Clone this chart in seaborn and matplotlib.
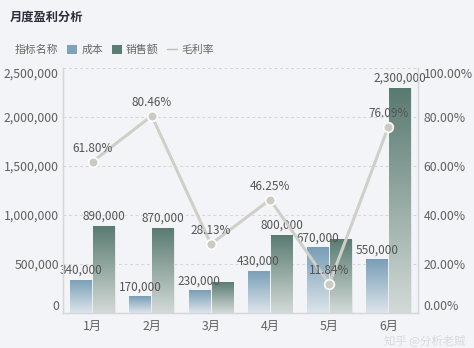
import numpy as np
import pandas as pd
import matplotlib
matplotlib.use("Agg")
import matplotlib.pyplot as plt
import seaborn as sns
from matplotlib.patches import Patch
from matplotlib.lines import Line2D
from matplotlib.colors import LinearSegmentedColormap

months = ["1月", "2月", "3月", "4月", "5月", "6月"]
cost = [340000, 170000, 230000, 430000, 670000, 550000]
sales = [890000, 870000, 320000, 800000, 760000, 2300000]
margin = [61.80, 80.46, 28.13, 46.25, 11.84, 76.09]
series_names = ["成本", "销售额"]
margin_name = "毛利率"
show_sales_label = [True, True, False, True, False, True]

sns.set_theme(style="white")
plt.rcParams["font.family"] = ["Noto Sans CJK SC", "DejaVu Sans"]
plt.rcParams["axes.unicode_minus"] = False

bg = "#f3f4f7"
fig = plt.figure(figsize=(4.74, 3.48), dpi=100, facecolor=bg)
ax = fig.add_axes([63/474, 1-313/348, (418-63)/474, (313-68)/348])
ax.set_facecolor("none")

df = pd.DataFrame({
    "month": months * 2,
    "value": cost + sales,
    "series": [series_names[0]] * len(months) + [series_names[1]] * len(months),
})
cost_top, cost_bot = "#789eb6", "#dce5eb"
sales_top, sales_bot = "#587a70", "#d3dad7"
sns.barplot(data=df, x="month", y="value", hue="series", order=months,
            hue_order=series_names, palette=[cost_top, sales_top],
            width=0.78, gap=0.06, legend=False, ax=ax, zorder=2)

cmaps = {
    0: LinearSegmentedColormap.from_list("c", [cost_bot, cost_top]),
    1: LinearSegmentedColormap.from_list("s", [sales_bot, sales_top]),
}
grad = np.linspace(0, 1, 256).reshape(-1, 1)
bars = [p for p in ax.patches]
n = len(months)
for i, p in enumerate(bars):
    sidx = i // n
    x0, w, h = p.get_x(), p.get_width(), p.get_height()
    im = ax.imshow(grad, cmap=cmaps[sidx], origin="lower", aspect="auto",
                   extent=[x0, x0 + w, 0, h], zorder=3, interpolation="bicubic")
    im.set_clip_path(p)
    p.set_edgecolor("white")
    p.set_linewidth(0.5)

ax.set_xlim(-0.5, n - 0.5)
ax.set_ylim(0, 2500000)
yt = [0, 500000, 1000000, 1500000, 2000000, 2500000]
ax.set_yticks(yt)
ax.set_yticklabels(["0" if v == 0 else f"{v:,}" for v in yt])
for v in yt[1:]:
    ax.axhline(v, color="#d5d6da", lw=0.8, ls=(0, (2.5, 2.5)), zorder=1)

# bar labels
lab_color = "#555555"
for i, p in enumerate(bars):
    sidx = i // n
    m = i % n
    if sidx == 1 and not show_sales_label[m]:
        continue
    val = (cost if sidx == 0 else sales)[m]
    ax.annotate(f"{val:,}", (p.get_x() + p.get_width() / 2, p.get_height()),
                xytext=(0, 2), textcoords="offset points", ha="center",
                va="bottom", fontsize=8.5, color=lab_color, zorder=6)

ax2 = ax.twinx()
ax2.set_position(ax.get_position())
sns.lineplot(x=months, y=[v / 100 for v in margin], ax=ax2, color="#cfcfc8",
             lw=2.2, marker="o", markersize=7, markerfacecolor="#cbcbc4",
             markeredgecolor="white", markeredgewidth=1.2, zorder=5, sort=False)
ax2.set_ylim(0, 1.0)
ax2.set_xlim(-0.5, n - 0.5)
rt = [0, 0.2, 0.4, 0.6, 0.8, 1.0]
ax2.set_yticks(rt)
ax2.set_yticklabels([f"{v*100:.2f}%" for v in rt])
for m, v in enumerate(margin):
    ax2.annotate(f"{v:.2f}%", (m, v / 100), xytext=(0, 5), textcoords="offset points",
                 ha="center", va="bottom", fontsize=8.5, color=lab_color, zorder=7)

for a in (ax, ax2):
    a.set_xlabel("")
    a.set_ylabel("")
    a.tick_params(length=0, labelsize=8.8, colors="#606060", pad=3)
    a.spines["top"].set_visible(False)
    for s in ("left", "right", "bottom"):
        a.spines[s].set_color("#d6d7db")
        a.spines[s].set_linewidth(0.9)
    labs = a.get_yticklabels()
    labs[0].set_verticalalignment("bottom")
    labs[-1].set_verticalalignment("top")
ax.tick_params(axis="x", pad=5)
ax2.yaxis.set_tick_params(pad=4)

# title and legend
fig.text(10/474, 1-17/348, "月度盈利分析", fontsize=8.8, fontweight="bold",
         color="#2b2f3a", va="center", ha="left")
fig.text(15/474, 1-50/348, "指标名称", fontsize=7.8, color="#666666",
         va="center", ha="left")
handles = [Patch(facecolor="#7ea3b9", edgecolor="none"),
           Patch(facecolor="#5b7d72", edgecolor="none"),
           Line2D([0], [0], color="#bdbdb8", lw=1)]
fig.legend(handles, series_names + [margin_name], loc="center left",
           bbox_to_anchor=(63/474, 1-50/348), ncol=3, frameon=False,
           fontsize=7.8, handlelength=0.9, handleheight=0.9, handletextpad=0.4,
           columnspacing=0.8, labelcolor="#666666", borderaxespad=0)

fig.text(466/474, 1-340/348, "知乎 @分析老贼", fontsize=8.2, color="#d4d6dc",
         ha="right", va="center", alpha=0.9)

fig.savefig("out.png", dpi=100, facecolor=bg)
